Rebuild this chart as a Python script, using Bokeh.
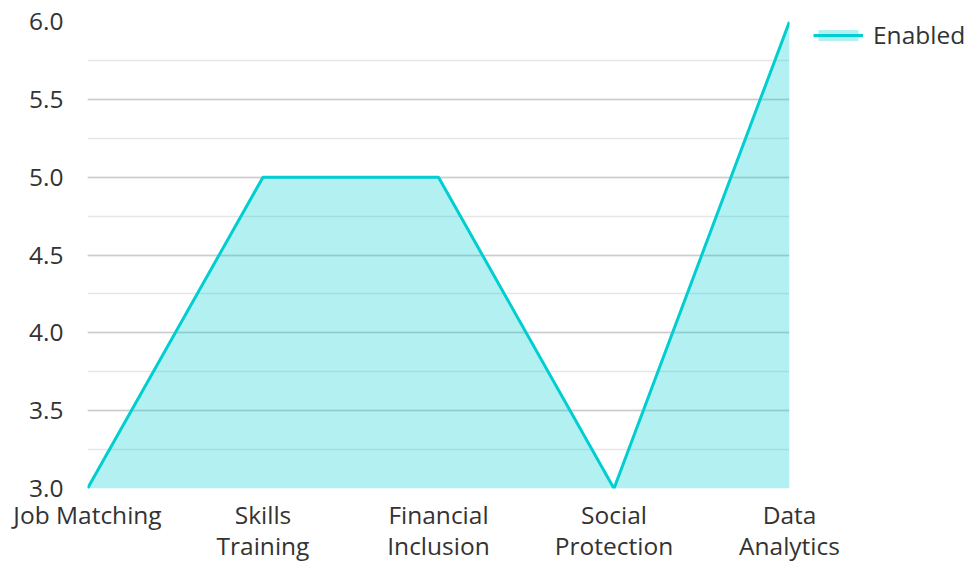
from bokeh.plotting import figure
from bokeh.models import Range1d, FixedTicker, SingleIntervalTicker, Legend, LegendItem, ColumnDataSource, PrintfTickFormatter
from bokeh.embed import file_html
from bokeh.resources import INLINE

categories = ["Job Matching", "Skills Training", "Financial Inclusion", "Social Protection", "Data Analytics"]
tick_labels = ["Job Matching", "Skills\nTraining", "Financial\nInclusion", "Social\nProtection", "Data\nAnalytics"]
enabled = [3, 5, 5, 3, 6]
series_name = "Enabled"

FONT = "Open Sans"
TEXT = "#333333"
COLOR = "#00CED1"
FS = "24.5px"

xs = list(range(len(categories)))
src = ColumnDataSource(dict(x=xs, y=enabled, base=[3.0] * len(xs)))

p = figure(frame_width=702, frame_height=467, output_backend="svg", toolbar_location=None,
           x_range=Range1d(0, len(categories) - 1), y_range=Range1d(3, 6),
           min_border_left=87, min_border_right=180, min_border_top=21, min_border_bottom=60)
p.outline_line_color = None
p.background_fill_color = "white"

area = p.varea(x="x", y1="base", y2="y", source=src, fill_color=COLOR, fill_alpha=0.3)
line = p.line(x="x", y="y", source=src, line_color=COLOR, line_width=3)

p.xaxis.ticker = FixedTicker(ticks=xs)
p.xaxis.major_label_overrides = {i: t for i, t in enumerate(tick_labels)}
p.yaxis.ticker = SingleIntervalTicker(interval=0.5, num_minor_ticks=2)
p.yaxis.formatter = PrintfTickFormatter(format="%.1f")

for ax in (p.xaxis[0], p.yaxis[0]):
    ax.axis_line_color = None
    ax.major_tick_line_color = None
    ax.minor_tick_line_color = None
    ax.major_tick_out = 0
    ax.major_tick_in = 0
    ax.minor_tick_out = 0
    ax.minor_tick_in = 0
    ax.major_label_text_font = FONT
    ax.major_label_text_font_size = FS
    ax.major_label_text_color = TEXT
p.yaxis.major_label_standoff = 24
p.xaxis.major_label_standoff = 9
p.xaxis.major_label_text_line_height = 0.95

p.xgrid.grid_line_color = None
p.ygrid.grid_line_color = "#cccccc"
p.ygrid.grid_line_width = 1.5
p.ygrid.minor_grid_line_color = "#e6e6e6"
p.ygrid.minor_grid_line_width = 1.5

legend = Legend(items=[LegendItem(label=series_name, renderers=[area, line])],
                location=(24, 437), orientation="vertical",
                border_line_alpha=0, background_fill_alpha=0,
                glyph_width=50, glyph_height=14, label_height=20,
                label_text_font=FONT, label_text_font_size=FS, label_text_color=TEXT,
                label_standoff=10, padding=0, margin=0)
p.add_layout(legend, "right")

open("out.html", "w").write(file_html(p, INLINE))
